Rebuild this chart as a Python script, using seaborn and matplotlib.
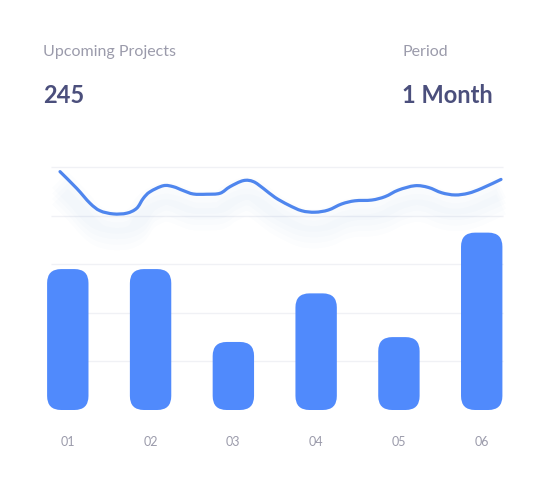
import matplotlib
matplotlib.use('Agg')
import matplotlib.pyplot as plt
import matplotlib.transforms as mtransforms
from matplotlib.patches import FancyBboxPatch, PathPatch
from matplotlib.path import Path
import seaborn as sns
import pandas as pd

# Bar data (six periods)
periods = ['01', '02', '03', '04', '05', '06']
bar_values = [58, 58, 28, 48, 30, 73]

# Trend line (x in bar-index units)
line_x = [-0.094, 0.108, 0.268, 0.389, 0.55, 0.712, 0.832, 0.912, 0.993, 1.154,
          1.274, 1.395, 1.516, 1.678, 1.839, 1.959, 2.12, 2.241, 2.362, 2.503,
          2.664, 2.826, 2.986, 3.147, 3.309, 3.469, 3.671, 3.832, 3.993, 4.194,
          4.355, 4.517, 4.678, 4.838, 5.0, 5.233]
line_y = [98.1, 91.2, 85.1, 82.0, 80.7, 81.0, 83.0, 87.1, 89.8, 92.3,
          91.9, 90.3, 88.9, 88.8, 89.2, 91.9, 94.4, 94.0, 91.2, 87.5,
          84.4, 82.0, 81.4, 82.3, 84.8, 86.1, 86.4, 87.8, 90.5, 92.3,
          91.6, 89.4, 88.5, 89.2, 91.2, 94.9]

grid_levels = [20, 40, 60, 80, 100]

header_left = ('Upcoming Projects', '245')
header_right = ('Period', '1 Month')

bar_color = '#508AFC'
line_color = '#4F86EE'
title_color = '#4B4F7C'
label_color = '#9B9BAB'

sns.set_theme(style='white')
plt.rcParams['font.family'] = ['Lato', 'DejaVu Sans']

fig = plt.figure(figsize=(5.45, 5.0), dpi=100)
fig.patch.set_facecolor('white')

rect = [26.4 / 545, 90 / 500, 496.7 / 545, 252.7 / 500]
xlim = (-0.5, 5.5)
ylim = (0, 104)


def smooth_line(line, ax, cap):
    """Replace a seaborn polyline by a Catmull-Rom bezier through its points."""
    xs, ys = line.get_xdata(), line.get_ydata()
    pts = list(zip(xs, ys))
    verts = [pts[0]]
    codes = [Path.MOVETO]
    for i in range(len(pts) - 1):
        p0 = pts[i - 1] if i > 0 else pts[i]
        p1, p2 = pts[i], pts[i + 1]
        p3 = pts[i + 2] if i + 2 < len(pts) else pts[i + 1]
        c1 = (p1[0] + (p2[0] - p0[0]) / 6, p1[1] + (p2[1] - p0[1]) / 6)
        c2 = (p2[0] - (p3[0] - p1[0]) / 6, p2[1] - (p3[1] - p1[1]) / 6)
        verts += [c1, c2, p2]
        codes += [Path.CURVE4] * 3
    pp = PathPatch(Path(verts, codes), facecolor='none',
                   edgecolor=line.get_color(), linewidth=line.get_linewidth(),
                   alpha=line.get_alpha(), transform=line.get_transform(),
                   capstyle=cap, joinstyle='round', zorder=line.get_zorder())
    ax.add_patch(pp)
    line.set_visible(False)


ax = fig.add_axes(rect)
df = pd.DataFrame({'period': periods, 'value': bar_values})
sns.barplot(data=df, x='period', y='value', color=bar_color, width=0.5,
            saturation=1, ax=ax, zorder=3)
ax.set_xlim(*xlim)
ax.set_ylim(*ylim)
ax.hlines(grid_levels, -0.2, 5.26, color='#F0F1F5', linewidth=1, zorder=1)

# swap plain bars for rounded ones
fig.canvas.draw()
p0 = ax.transData.transform((0, 0))
p1 = ax.transData.transform((1, 1))
aspect = (p1[0] - p0[0]) / (p1[1] - p0[1])
radius = 14 / (p1[0] - p0[0])
for patch in list(ax.patches):
    x, y = patch.get_x(), patch.get_y()
    w, h = patch.get_width(), patch.get_height()
    patch.remove()
    ax.add_patch(FancyBboxPatch((x, y), w, h,
                                boxstyle=f'round,pad=0,rounding_size={radius}',
                                mutation_aspect=aspect, facecolor=bar_color,
                                edgecolor='none', zorder=3))

ax.set_xlabel('')
ax.set_ylabel('')
ax.set_yticks([])
ax.tick_params(axis='x', length=0, pad=19, labelsize=9, labelcolor=label_color)
for s in ax.spines.values():
    s.set_visible(False)

# overlay axes for the trend line and its soft glow
ax2 = fig.add_axes(rect)
ax2.set_xlim(*xlim)
ax2.set_ylim(*ylim)
ax2.axis('off')
ax2.patch.set_alpha(0)
line_df = pd.DataFrame({'x': line_x, 'y': line_y})
for dy in [6, 10, 14, 18]:
    tr = mtransforms.offset_copy(ax2.transData, fig=fig, x=0, y=-dy, units='points')
    sns.lineplot(data=line_df, x='x', y='y', sort=False, color='#7FA4F2',
                 linewidth=16, alpha=0.018, transform=tr, ax=ax2)
for ln in list(ax2.lines):
    smooth_line(ln, ax2, 'butt')
sns.lineplot(data=line_df, x='x', y='y', sort=False, color=line_color,
             linewidth=2.3, ax=ax2)
smooth_line(ax2.lines[-1], ax2, 'round')
ax2.set_xlabel('')
ax2.set_ylabel('')

# header texts
fig.text(43 / 545, 1 - 56 / 500, header_left[0], fontsize=11.5, color=label_color)
fig.text(43 / 545, 1 - 103 / 500, header_left[1], fontsize=17, color=title_color,
         fontweight='bold')
fig.text(402 / 545, 1 - 56 / 500, header_right[0], fontsize=11.5, color=label_color)
fig.text(402 / 545, 1 - 103 / 500, header_right[1], fontsize=17, color=title_color,
         fontweight='bold')

fig.savefig('out.png', dpi=100, facecolor='white')
